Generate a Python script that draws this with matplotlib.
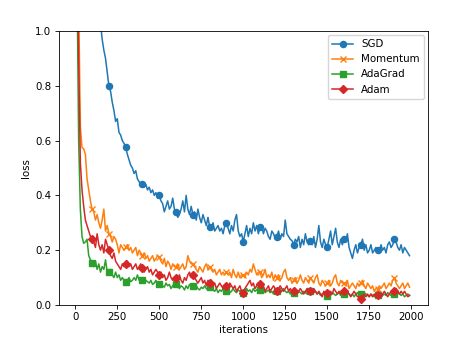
import numpy as np
import matplotlib
matplotlib.use("Agg")
import matplotlib.pyplot as plt

iterations = list(range(0, 2000, 10))

sgd = [2.30, 2.27, 2.23, 2.18, 2.10, 2.01, 1.90, 1.78, 1.65, 1.52,
       1.40, 1.30, 1.21, 1.14, 1.08, 1.03, 0.97, 0.93, 0.90, 0.85,
       0.80, 0.78, 0.74, 0.71, 0.67, 0.68, 0.63, 0.62, 0.60, 0.59,
       0.575, 0.55, 0.53, 0.51, 0.50, 0.48, 0.49, 0.46, 0.45, 0.44,
       0.44, 0.43, 0.44, 0.42, 0.43, 0.41, 0.42, 0.40, 0.41, 0.39,
       0.40, 0.38, 0.37, 0.34, 0.36, 0.38, 0.35, 0.36, 0.39, 0.35,
       0.34, 0.32, 0.33, 0.35, 0.38, 0.34, 0.40, 0.35, 0.33, 0.36,
       0.33, 0.34, 0.31, 0.35, 0.32, 0.30, 0.33, 0.31, 0.29, 0.32,
       0.285, 0.28, 0.30, 0.27, 0.28, 0.29, 0.27, 0.28, 0.26, 0.29,
       0.30, 0.28, 0.26, 0.29, 0.27, 0.31, 0.33, 0.27, 0.25, 0.26,
       0.23, 0.26, 0.29, 0.25, 0.28, 0.26, 0.30, 0.27, 0.29, 0.26,
       0.285, 0.29, 0.26, 0.28, 0.27, 0.25, 0.24, 0.27, 0.26, 0.245,
       0.25, 0.27, 0.24, 0.26, 0.25, 0.31, 0.26, 0.25, 0.24, 0.235,
       0.22, 0.24, 0.23, 0.25, 0.21, 0.24, 0.22, 0.26, 0.23, 0.22,
       0.235, 0.22, 0.25, 0.21, 0.24, 0.29, 0.23, 0.21, 0.24, 0.22,
       0.21, 0.24, 0.27, 0.22, 0.25, 0.28, 0.23, 0.21, 0.24, 0.22,
       0.24, 0.23, 0.26, 0.21, 0.19, 0.17, 0.20, 0.22, 0.19, 0.21,
       0.22, 0.24, 0.20, 0.22, 0.19, 0.20, 0.22, 0.19, 0.20, 0.21,
       0.20, 0.19, 0.22, 0.20, 0.21, 0.19, 0.22, 0.23, 0.21, 0.22,
       0.24, 0.23, 0.21, 0.20, 0.22, 0.19, 0.21, 0.20, 0.19, 0.18]

momentum = [2.25, 1.70, 1.10, 0.65, 0.575, 0.57, 0.55, 0.46, 0.42, 0.38,
            0.35, 0.34, 0.31, 0.33, 0.30, 0.28, 0.31, 0.35, 0.27, 0.29,
            0.26, 0.25, 0.23, 0.25, 0.24, 0.22, 0.19, 0.22, 0.21, 0.20,
            0.21, 0.22, 0.20, 0.21, 0.19, 0.20, 0.21, 0.18, 0.20, 0.19,
            0.18, 0.19, 0.17, 0.18, 0.16, 0.17, 0.18, 0.16, 0.17, 0.18,
            0.175, 0.16, 0.15, 0.17, 0.14, 0.16, 0.15, 0.13, 0.15, 0.14,
            0.14, 0.15, 0.13, 0.14, 0.15, 0.13, 0.14, 0.18, 0.16, 0.15,
            0.15, 0.14, 0.13, 0.12, 0.14, 0.13, 0.12, 0.14, 0.15, 0.13,
            0.14, 0.13, 0.12, 0.13, 0.11, 0.12, 0.13, 0.11, 0.12, 0.11,
            0.12, 0.11, 0.12, 0.10, 0.13, 0.11, 0.10, 0.12, 0.10, 0.11,
            0.11, 0.10, 0.12, 0.11, 0.13, 0.12, 0.15, 0.13, 0.11, 0.12,
            0.12, 0.10, 0.11, 0.13, 0.10, 0.11, 0.10, 0.12, 0.09, 0.11,
            0.10, 0.11, 0.09, 0.10, 0.12, 0.13, 0.10, 0.09, 0.10, 0.08,
            0.09, 0.10, 0.08, 0.09, 0.11, 0.09, 0.08, 0.10, 0.09, 0.08,
            0.10, 0.09, 0.08, 0.10, 0.11, 0.08, 0.07, 0.09, 0.08, 0.07,
            0.08, 0.09, 0.07, 0.08, 0.10, 0.11, 0.08, 0.07, 0.09, 0.08,
            0.08, 0.07, 0.09, 0.06, 0.07, 0.08, 0.07, 0.06, 0.08, 0.07,
            0.08, 0.09, 0.07, 0.06, 0.08, 0.07, 0.06, 0.07, 0.05, 0.06,
            0.06, 0.07, 0.06, 0.07, 0.08, 0.06, 0.07, 0.08, 0.07, 0.09,
            0.10, 0.08, 0.07, 0.06, 0.07, 0.08, 0.06, 0.07, 0.08, 0.065]

adagrad = [2.20, 1.20, 0.60, 0.35, 0.25, 0.225, 0.23, 0.24, 0.18, 0.165,
           0.155, 0.14, 0.16, 0.13, 0.15, 0.12, 0.14, 0.13, 0.165, 0.12,
           0.12, 0.13, 0.11, 0.10, 0.12, 0.10, 0.11, 0.09, 0.10, 0.09,
           0.085, 0.09, 0.10, 0.085, 0.09, 0.10, 0.09, 0.11, 0.09, 0.10,
           0.09, 0.08, 0.09, 0.085, 0.08, 0.09, 0.075, 0.08, 0.09, 0.07,
           0.075, 0.08, 0.07, 0.065, 0.08, 0.07, 0.075, 0.06, 0.07, 0.08,
           0.075, 0.07, 0.06, 0.07, 0.065, 0.055, 0.07, 0.06, 0.075, 0.07,
           0.07, 0.065, 0.07, 0.06, 0.055, 0.065, 0.06, 0.07, 0.06, 0.055,
           0.065, 0.06, 0.055, 0.05, 0.06, 0.045, 0.055, 0.05, 0.06, 0.05,
           0.05, 0.055, 0.045, 0.05, 0.06, 0.05, 0.045, 0.055, 0.05, 0.045,
           0.045, 0.05, 0.06, 0.05, 0.055, 0.045, 0.06, 0.05, 0.055, 0.06,
           0.055, 0.05, 0.06, 0.045, 0.05, 0.055, 0.045, 0.05, 0.04, 0.05,
           0.05, 0.045, 0.055, 0.05, 0.06, 0.05, 0.045, 0.05, 0.04, 0.05,
           0.045, 0.05, 0.04, 0.05, 0.045, 0.04, 0.05, 0.045, 0.04, 0.05,
           0.05, 0.04, 0.045, 0.05, 0.04, 0.045, 0.035, 0.04, 0.045, 0.04,
           0.033, 0.04, 0.035, 0.045, 0.04, 0.035, 0.04, 0.045, 0.035, 0.04,
           0.04, 0.035, 0.045, 0.04, 0.035, 0.04, 0.03, 0.04, 0.045, 0.035,
           0.04, 0.035, 0.045, 0.04, 0.035, 0.03, 0.04, 0.035, 0.03, 0.04,
           0.035, 0.04, 0.03, 0.035, 0.04, 0.035, 0.045, 0.04, 0.035, 0.04,
           0.04, 0.035, 0.045, 0.04, 0.035, 0.04, 0.03, 0.035, 0.04, 0.035]

adam = [2.25, 1.50, 0.90, 0.52, 0.42, 0.36, 0.31, 0.29, 0.27, 0.25,
        0.24, 0.23, 0.21, 0.26, 0.22, 0.20, 0.22, 0.19, 0.24, 0.22,
        0.20, 0.18, 0.17, 0.19, 0.16, 0.15, 0.14, 0.13, 0.15, 0.14,
        0.148, 0.16, 0.14, 0.15, 0.13, 0.14, 0.15, 0.13, 0.14, 0.15,
        0.135, 0.12, 0.13, 0.14, 0.12, 0.13, 0.11, 0.12, 0.13, 0.12,
        0.11, 0.12, 0.10, 0.11, 0.09, 0.10, 0.12, 0.10, 0.09, 0.10,
        0.10, 0.09, 0.11, 0.09, 0.08, 0.10, 0.09, 0.11, 0.12, 0.10,
        0.11, 0.10, 0.09, 0.08, 0.09, 0.10, 0.08, 0.09, 0.07, 0.09,
        0.08, 0.09, 0.07, 0.08, 0.06, 0.07, 0.08, 0.07, 0.06, 0.07,
        0.07, 0.06, 0.08, 0.07, 0.06, 0.07, 0.05, 0.06, 0.07, 0.05,
        0.045, 0.06, 0.07, 0.08, 0.09, 0.07, 0.08, 0.06, 0.07, 0.08,
        0.075, 0.06, 0.07, 0.05, 0.06, 0.07, 0.05, 0.06, 0.07, 0.06,
        0.05, 0.06, 0.07, 0.06, 0.05, 0.06, 0.07, 0.05, 0.06, 0.05,
        0.05, 0.06, 0.04, 0.05, 0.06, 0.05, 0.04, 0.05, 0.06, 0.05,
        0.05, 0.04, 0.06, 0.05, 0.04, 0.05, 0.04, 0.03, 0.05, 0.04,
        0.045, 0.04, 0.05, 0.04, 0.06, 0.05, 0.04, 0.05, 0.04, 0.05,
        0.05, 0.04, 0.05, 0.04, 0.03, 0.04, 0.05, 0.04, 0.03, 0.03,
        0.022, 0.03, 0.04, 0.03, 0.04, 0.03, 0.04, 0.03, 0.04, 0.03,
        0.035, 0.04, 0.03, 0.04, 0.05, 0.04, 0.03, 0.04, 0.05, 0.04,
        0.05, 0.06, 0.05, 0.04, 0.05, 0.04, 0.05, 0.04, 0.03, 0.035]

series = {"SGD": sgd, "Momentum": momentum, "AdaGrad": adagrad, "Adam": adam}
markers = {"SGD": "o", "Momentum": "x", "AdaGrad": "s", "Adam": "D"}
colors = {"SGD": "#1f77b4", "Momentum": "#ff7f0e", "AdaGrad": "#2ca02c", "Adam": "#d62728"}

fs = 7.4
fig = plt.figure(figsize=(4.74, 3.4), dpi=100)
ax = fig.add_axes([58.5 / 474, 35 / 340, 369.5 / 474, 274 / 340])

for key, vals in series.items():
    ax.plot(iterations, vals, marker=markers[key], markevery=10, label=key,
            color=colors[key], linewidth=1.1, markersize=4.4)

ax.set_xlim(-100, 2100)
ax.set_ylim(0, 1)
ax.set_xlabel("iterations", fontsize=fs, labelpad=2)
ax.set_ylabel("loss", fontsize=fs, labelpad=3)
ax.tick_params(labelsize=fs, length=2.6, width=0.6, pad=2.5)
for s in ax.spines.values():
    s.set_linewidth(0.6)
ax.legend(loc="upper right", fontsize=fs, borderaxespad=0.4, handlelength=2.0)

fig.savefig("out.png", dpi=100)
